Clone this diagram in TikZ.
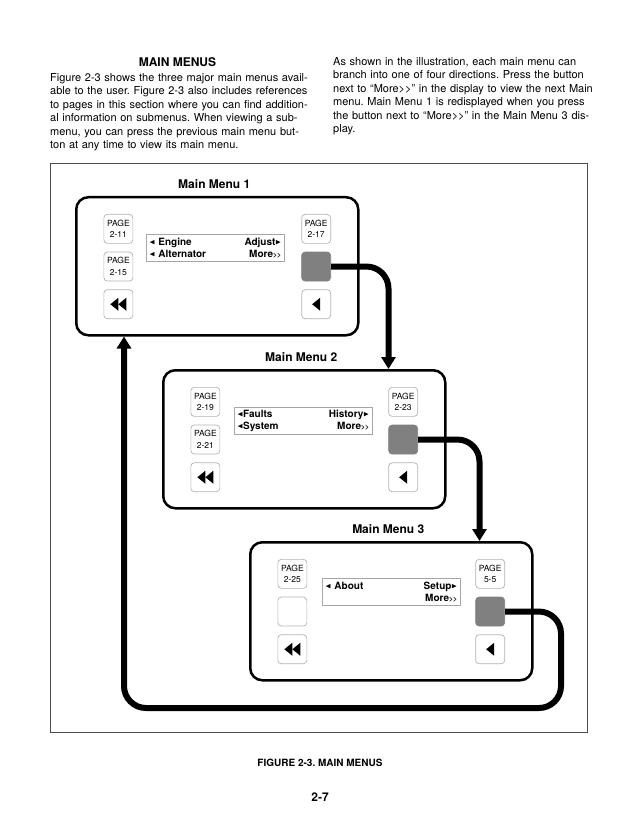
\documentclass[tikz,border=0pt]{standalone}
\usepackage{amssymb}
\usepackage{graphicx}
\usepackage{fontspec}
\setmainfont{TeX Gyre Heros}
\usetikzlibrary{positioning,arrows.meta}
\frenchspacing

\newcommand{\lpoint}{\raisebox{0.2ex}{\scalebox{0.75}{$\blacktriangleleft$}}}
\newcommand{\rpoint}{\raisebox{0.2ex}{\scalebox{0.75}{$\blacktriangleright$}}}
\newcommand{\fullline}[1]{\makebox[255pt][s]{#1}}

\begin{document}
\begin{tikzpicture}[
  x=1pt, y=-1pt,
  node distance=8pt,
  para/.style={anchor=north west, inner sep=0pt, text width=255pt, align=left,
    font=\fontsize{11}{13.5}\selectfont},
  heading/.style={anchor=base, inner sep=0pt, font=\bfseries\fontsize{12}{14}\selectfont},
  menubox/.style={draw, line width=2.5pt, rounded corners=12pt, anchor=north west,
    minimum width=282pt, minimum height=138pt, inner sep=0pt},
  menutitle/.style={inner sep=1pt, font=\bfseries\fontsize{12}{14}\selectfont},
  btn/.style={draw=black!30, line width=0.7pt, rounded corners=3.5pt,
    minimum width=29pt, minimum height=29pt, inner sep=0pt, align=center,
    font=\fontsize{8.5}{11.5}\selectfont},
  morebtn/.style={btn, draw=black!50, fill=black!50},
  prevbtn/.style={btn, path picture={
    \fill[black, sharp corners] ([xshift=-8pt]path picture bounding box.center)
      -- ++(8pt,6.5pt) -- ++(0pt,-13pt) -- cycle;
    \fill[black, sharp corners] (path picture bounding box.center)
      -- ++(8pt,6.5pt) -- ++(0pt,-13pt) -- cycle;}},
  backbtn/.style={btn, path picture={
    \fill[black, sharp corners] ([xshift=-4pt]path picture bounding box.center)
      -- ++(8pt,6.5pt) -- ++(0pt,-13pt) -- cycle;}},
  display/.style={draw=black!35, line width=0.6pt, text width=132pt,
    inner xsep=3pt, inner ysep=0pt, minimum height=27pt, align=left,
    font=\bfseries\fontsize{10}{12}\selectfont},
  flow/.style={line width=6pt, rounded corners=22pt,
    -{Triangle[width=14pt, length=12pt]}}
]
\useasboundingbox (0,0) rectangle (638,826);

% Texte d'en-tete
\node[heading] (head) at (177.5,66.3) {MAIN MENUS};
\node[para] (lefttext) at (50,73) {%
  \fullline{Figure 2-3 shows the three major main menus avail-}\\
  \fullline{able to the user. Figure 2-3 also includes references}\\
  \fullline{to pages in this section where you can find addition-}\\
  \fullline{al information on submenus. When viewing a sub-}\\
  \fullline{menu, you can press the previous main menu but-}\\
  ton at any time to view its main menu.};
\node[para] (righttext) at (333,57) {%
  \fullline{As shown in the illustration, each main menu can}\\
  \fullline{branch into one of four directions. Press the button}\\
  \fullline{next to ``More>{}>'' in the display to view the next Main}\\
  \fullline{menu. Main Menu 1 is redisplayed when you press}\\
  \fullline{the button next to ``More>{}>'' in the Main Menu 3 dis-}\\
  play.};

% Cadre de la figure
\draw[line width=1pt, black!70] (50,164) rectangle (587,732);

% Menu principal 1
\node[menubox] (mm1) at (75,196) {};
\node[menutitle, above=6pt of mm1.north, xshift=-3pt] (mm1title) {Main Menu 1};
\node[btn, below right=18pt and 28.5pt of mm1.north west] (mm1p1) {PAGE\\2-11};
\node[btn, below=of mm1p1] (mm1p2) {PAGE\\2-15};
\node[prevbtn, below=of mm1p2] (mm1prev) {};
\node[btn, below left=18pt and 28.5pt of mm1.north east] (mm1p3) {PAGE\\2-17};
\node[morebtn, below=of mm1p3] (mm1more) {};
\node[backbtn, below=of mm1more] (mm1back) {};
\node[display, below right=38pt and 71pt of mm1.north west] (mm1disp)
  {\lpoint\ Engine\hfill Adjust\rpoint\\\lpoint\ Alternator\hfill More{\scriptsize>{}>}};

% Menu principal 2
\node[menubox] (mm2) at (162,369) {};
\node[menutitle, above=6pt of mm2.north, xshift=-3pt] (mm2title) {Main Menu 2};
\node[btn, below right=18pt and 28.5pt of mm2.north west] (mm2p1) {PAGE\\2-19};
\node[btn, below=of mm2p1] (mm2p2) {PAGE\\2-21};
\node[prevbtn, below=of mm2p2] (mm2prev) {};
\node[btn, below left=18pt and 28.5pt of mm2.north east] (mm2p3) {PAGE\\2-23};
\node[morebtn, below=of mm2p3] (mm2more) {};
\node[backbtn, below=of mm2more] (mm2back) {};
\node[display, below right=38pt and 72pt of mm2.north west] (mm2disp)
  {\lpoint Faults\hfill History\rpoint\\\lpoint System\hfill More{\scriptsize>{}>}};

% Menu principal 3
\node[menubox] (mm3) at (249,541) {};
\node[menutitle, above=6pt of mm3.north, xshift=-3pt] (mm3title) {Main Menu 3};
\node[btn, below right=18pt and 28.5pt of mm3.north west] (mm3p1) {PAGE\\2-25};
\node[btn, below=of mm3p1] (mm3p2) {};
\node[prevbtn, below=of mm3p2] (mm3prev) {};
\node[btn, below left=18pt and 28.5pt of mm3.north east] (mm3p3) {PAGE\\5-5};
\node[morebtn, below=of mm3p3] (mm3more) {};
\node[backbtn, below=of mm3more] (mm3back) {};
\node[display, below right=37pt and 73pt of mm3.north west] (mm3disp)
  {\lpoint\ About\hfill Setup\rpoint\\\mbox{}\hfill More{\scriptsize>{}>}};

% Fleches
\coordinate (loopR) at (561,708);
\draw[flow] (mm1more.east) -| ([xshift=-58pt]mm2.north east);
\draw[flow] (mm2more.east) -| ([xshift=-54pt]mm3.north east);
\draw[flow] (mm3more.east) -| (loopR) -| ([xshift=49pt]mm1.south west);

% Legende
\node[anchor=base, inner sep=0pt, font=\bfseries\fontsize{10}{12}\selectfont] (caption)
  at (320,766.6) {FIGURE 2-3. MAIN MENUS};
\node[anchor=base, inner sep=0pt, font=\bfseries\fontsize{12}{14}\selectfont] (pagenum)
  at (320,801) {2-7};
\end{tikzpicture}
\end{document}
